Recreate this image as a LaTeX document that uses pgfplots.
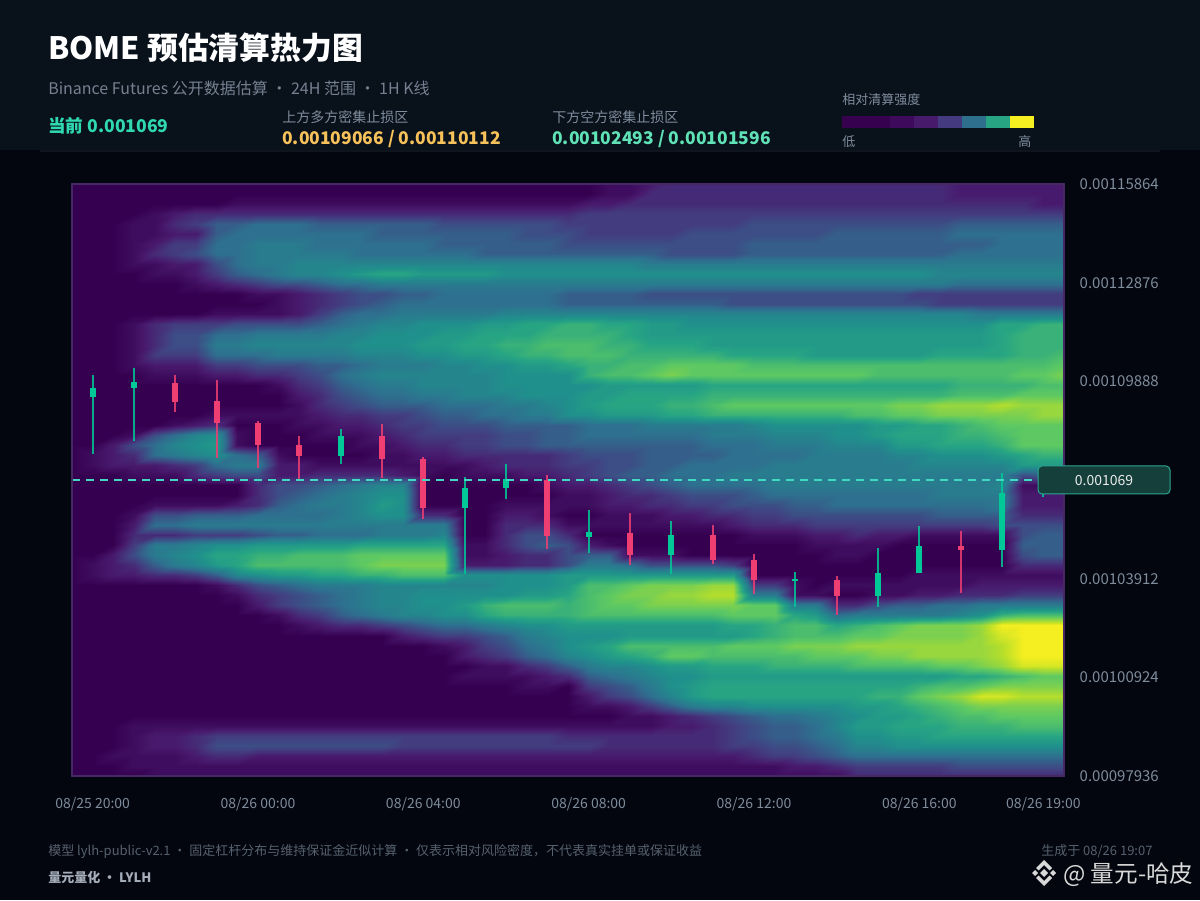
\documentclass[border=0pt]{standalone}
\usepackage{pgfplots}
\pgfplotsset{compat=1.18}
\usepackage{fontspec}
\setmainfont{Noto Sans CJK SC}
\definecolor{hdr}{HTML}{09111B}
\definecolor{bgd}{HTML}{03060E}
\definecolor{upc}{HTML}{00C896}
\definecolor{dnc}{HTML}{EE3E72}
\definecolor{tick}{HTML}{7F8C9C}
\definecolor{mut}{HTML}{56616F}
\newcommand{\fs}[1]{\fontsize{#1}{#1}\selectfont}
\begin{document}
\begin{tikzpicture}
\begin{scope}[x=0.75pt,y=-0.75pt,shift={(0,675pt)}]
\fill[bgd] (0,0) rectangle (1200,900);
\fill[hdr] (0,0) rectangle (1200,150);
\draw[color=hdr!80!white,line width=1.2pt,opacity=.25] (40,151) -- (1160,151);
\node[anchor=base west,inner sep=0,text=white] at (48,59.5) {\fs{23.1}\bfseries BOME 预估清算热力图};
\node[anchor=base west,inner sep=0,text=tick!92!black] at (48,95) {\fs{12}Binance Futures 公开数据估算 · 24H 范围 · 1H K线};
\node[anchor=base west,inner sep=0,text={rgb,255:red,47;green,216;blue,176}] at (48,133) {\fs{13.2}\bfseries 当前 0.001069};
\node[anchor=base west,inner sep=0,text=tick] at (282,123) {\fs{10.5}上方多方密集止损区};
\node[anchor=base west,inner sep=0,text={rgb,255:red,247;green,194;blue,90}] at (282,145) {\fs{13.1}\bfseries 0.00109066 / 0.00110112};
\node[anchor=base west,inner sep=0,text=tick] at (552,123) {\fs{10.5}下方空方密集止损区};
\node[anchor=base west,inner sep=0,text={rgb,255:red,95;green,227;blue,182}] at (552,145) {\fs{13.1}\bfseries 0.00102493 / 0.00101596};
\node[anchor=base west,inner sep=0,text=tick] at (842,105) {\fs{9.75}相对清算强度};
\fill[fill={rgb,255:red,54;green,2;blue,79}] (842,116) rectangle (890,128);
\fill[fill={rgb,255:red,61;green,10;blue,92}] (890,116) rectangle (914,128);
\fill[fill={rgb,255:red,72;green,26;blue,108}] (914,116) rectangle (938,128);
\fill[fill={rgb,255:red,67;green,58;blue,128}] (938,116) rectangle (962,128);
\fill[fill={rgb,255:red,46;green,111;blue,142}] (962,116) rectangle (986,128);
\fill[fill={rgb,255:red,39;green,165;blue,131}] (986,116) rectangle (1010,128);
\fill[fill={rgb,255:red,245;green,238;blue,32}] (1010,116) rectangle (1034,128);
\node[anchor=base west,inner sep=0,text=tick] at (842,146.5) {\fs{9.75}低};
\node[anchor=base west,inner sep=0,text=tick] at (1018,146.5) {\fs{9.75}高};
\node[anchor=base west,inner sep=0,text=mut] at (48,855) {\fs{9.75}模型 lylh-public-v2.1 · 固定杠杆分布与维持保证金近似计算 · 仅表示相对风险密度，不代表真实挂单或保证收益};
\node[anchor=base west,inner sep=0,text=mut] at (1041,855) {\fs{9.75}生成于 08/26 19:07};
\node[anchor=base west,inner sep=0,text=tick!70!white] at (48,882.5) {\fs{9.75}\bfseries 量元量化 · LYLH};
\end{scope}
\begin{axis}[at={(54pt,93pt)},anchor=south west,width=744pt,height=444pt,scale only axis,
 xmin=-0.5,xmax=23.5,ymin=0.00097936,ymax=0.00115864,
 colormap={h}{rgb255(0)=(54,0,80);rgb255(2)=(72,26,110);rgb255(4)=(67,61,128);rgb255(7)=(46,112,143);rgb255(10)=(32,144,140);rgb255(12)=(39,165,131);rgb255(15)=(94,201,98);rgb255(18)=(181,222,43);rgb255(20)=(245,238,32)},
 point meta min=0,point meta max=20,axis on top,
 axis line style={draw={rgb,255:red,70;green,40;blue,100},line width=0.9pt},
 tick style={draw=none},
 xtick={0,4,8,12,16,20,23},
 xticklabels={08/25 20:00,08/26 00:00,08/26 04:00,08/26 08:00,08/26 12:00,08/26 16:00,08/26 19:00},
 xticklabel style={text=tick,font=\fs{10.5},yshift=-12.5pt},
 ytick={0.00097936,0.00100924,0.00103912,0.00109888,0.00112876,0.00115864},
 yticklabels={0.00097936,0.00100924,0.00103912,0.00109888,0.00112876,0.00115864},
 yticklabel pos=right,
 yticklabel style={text=tick,font=\fs{11.25},anchor=west,xshift=8.25pt},
 scaled y ticks=false]
\addplot[surf,shader=interp,mesh/cols=49,point meta=\thisrow{z}] table[row sep=\\,x expr={-0.5+mod(\coordindex,49)*0.5},y expr={0.00115864-floor(\coordindex/49)*0.00017928/59}] {z\\
0\\0\\0\\0\\0\\0\\0\\0\\0\\0\\0\\0\\0\\0\\0\\0\\0\\0\\0\\0\\0\\0\\0\\0\\0\\0\\1\\1\\2\\3\\3\\3\\3\\3\\3\\3\\3\\3\\3\\3\\3\\3\\3\\2\\2\\2\\2\\2\\2\\
0\\0\\0\\0\\0\\0\\0\\0\\0\\0\\0\\0\\0\\0\\0\\0\\0\\0\\0\\0\\0\\0\\0\\0\\0\\0\\1\\1\\3\\3\\3\\3\\3\\3\\3\\3\\3\\3\\3\\3\\3\\3\\3\\2\\2\\2\\2\\2\\2\\
0\\0\\0\\0\\0\\0\\0\\0\\1\\1\\1\\1\\1\\1\\1\\1\\1\\1\\1\\1\\1\\1\\1\\1\\1\\2\\2\\3\\3\\3\\3\\3\\3\\3\\3\\3\\3\\3\\3\\3\\3\\3\\3\\3\\3\\3\\3\\2\\2\\
0\\0\\0\\0\\1\\2\\3\\3\\3\\3\\3\\3\\3\\3\\3\\3\\3\\3\\3\\3\\3\\3\\3\\3\\3\\4\\4\\4\\4\\4\\4\\4\\4\\4\\4\\4\\4\\4\\4\\4\\4\\4\\4\\4\\4\\4\\4\\4\\4\\
0\\0\\0\\1\\1\\3\\4\\6\\6\\7\\7\\7\\6\\6\\6\\6\\6\\6\\5\\5\\5\\5\\5\\5\\4\\4\\4\\4\\4\\4\\4\\4\\4\\5\\5\\5\\5\\5\\5\\5\\5\\5\\5\\6\\6\\6\\6\\6\\6\\
0\\0\\0\\1\\1\\2\\2\\6\\7\\7\\7\\7\\7\\7\\7\\6\\6\\6\\6\\6\\6\\6\\5\\5\\5\\4\\4\\4\\4\\4\\5\\5\\5\\5\\5\\5\\5\\6\\6\\6\\6\\6\\6\\7\\7\\7\\7\\7\\7\\
0\\0\\0\\1\\2\\4\\4\\7\\7\\8\\8\\8\\7\\7\\7\\7\\7\\7\\6\\6\\6\\6\\6\\6\\5\\5\\5\\5\\5\\5\\5\\5\\5\\6\\6\\6\\6\\6\\6\\6\\6\\6\\6\\6\\6\\7\\7\\7\\7\\
0\\0\\0\\1\\3\\4\\5\\7\\7\\8\\8\\8\\8\\8\\7\\7\\7\\7\\7\\7\\6\\6\\6\\6\\6\\6\\6\\6\\6\\5\\5\\5\\5\\6\\6\\6\\6\\6\\6\\6\\6\\6\\6\\7\\7\\7\\7\\7\\7\\
0\\0\\0\\1\\1\\2\\2\\5\\7\\8\\8\\9\\9\\9\\9\\9\\9\\9\\9\\9\\9\\9\\9\\9\\9\\9\\9\\9\\8\\8\\8\\8\\8\\8\\8\\8\\8\\8\\8\\8\\8\\8\\8\\8\\8\\8\\8\\8\\8\\
0\\0\\0\\0\\1\\1\\2\\4\\6\\7\\8\\9\\9\\10\\11\\12\\12\\11\\11\\11\\11\\10\\10\\10\\10\\10\\10\\10\\10\\10\\10\\10\\10\\10\\10\\10\\10\\10\\10\\10\\10\\10\\9\\9\\9\\9\\9\\9\\9\\
0\\0\\0\\0\\0\\0\\1\\2\\3\\4\\5\\5\\6\\7\\7\\8\\8\\8\\8\\8\\8\\8\\8\\8\\8\\8\\8\\8\\8\\8\\8\\8\\8\\8\\8\\8\\8\\8\\8\\8\\8\\8\\8\\7\\7\\7\\7\\7\\7\\
0\\0\\0\\0\\0\\0\\0\\0\\0\\1\\1\\2\\3\\4\\5\\5\\6\\6\\7\\7\\7\\7\\7\\7\\6\\6\\6\\6\\5\\5\\5\\5\\5\\5\\5\\5\\5\\5\\5\\5\\5\\4\\4\\4\\4\\4\\4\\4\\4\\
0\\0\\0\\0\\0\\0\\0\\0\\0\\0\\1\\2\\3\\4\\5\\6\\7\\7\\7\\7\\7\\7\\7\\7\\6\\6\\6\\6\\6\\6\\6\\6\\5\\5\\5\\5\\5\\5\\5\\5\\5\\5\\4\\4\\4\\4\\4\\4\\4\\
0\\0\\0\\0\\0\\0\\0\\1\\1\\1\\1\\2\\4\\6\\7\\7\\8\\8\\8\\8\\8\\9\\9\\9\\9\\9\\9\\9\\9\\9\\9\\9\\9\\9\\9\\9\\9\\9\\9\\9\\9\\9\\9\\9\\8\\8\\8\\8\\8\\
0\\0\\0\\1\\3\\4\\4\\4\\5\\5\\5\\5\\6\\7\\8\\9\\9\\10\\10\\10\\11\\11\\12\\12\\13\\13\\12\\12\\11\\11\\10\\10\\10\\10\\10\\10\\10\\10\\10\\10\\10\\10\\10\\10\\10\\12\\12\\13\\13\\
0\\0\\0\\1\\3\\5\\5\\7\\7\\8\\8\\8\\8\\9\\9\\10\\10\\10\\11\\11\\12\\12\\12\\13\\13\\13\\13\\12\\11\\11\\11\\11\\11\\11\\11\\11\\11\\11\\11\\11\\11\\11\\11\\11\\11\\12\\13\\13\\13\\
0\\0\\0\\1\\3\\5\\5\\8\\8\\9\\9\\9\\9\\9\\10\\10\\10\\11\\11\\12\\12\\13\\13\\14\\14\\14\\13\\13\\12\\12\\12\\11\\11\\11\\11\\11\\11\\11\\11\\11\\11\\11\\11\\11\\11\\12\\13\\13\\13\\
0\\0\\0\\1\\4\\4\\4\\7\\7\\7\\8\\8\\8\\8\\9\\9\\9\\10\\10\\11\\11\\12\\13\\13\\14\\14\\14\\13\\13\\13\\13\\13\\12\\12\\12\\12\\11\\11\\11\\11\\11\\11\\12\\12\\12\\12\\13\\13\\14\\
0\\0\\0\\1\\2\\2\\2\\4\\4\\5\\5\\5\\6\\6\\7\\8\\8\\8\\9\\9\\10\\10\\11\\11\\12\\13\\13\\14\\14\\15\\15\\15\\15\\14\\14\\14\\14\\14\\14\\14\\14\\14\\14\\14\\14\\14\\14\\14\\15\\
0\\0\\0\\0\\1\\1\\1\\2\\2\\3\\3\\4\\5\\7\\8\\9\\9\\9\\9\\9\\9\\10\\10\\10\\10\\13\\14\\14\\15\\16\\15\\15\\15\\15\\15\\15\\15\\15\\15\\14\\14\\14\\14\\14\\14\\14\\15\\15\\16\\
0\\0\\0\\0\\0\\0\\0\\0\\0\\0\\1\\3\\4\\6\\7\\8\\8\\9\\9\\9\\9\\10\\10\\10\\10\\10\\11\\11\\11\\11\\11\\12\\12\\12\\12\\12\\12\\12\\12\\12\\12\\12\\12\\13\\13\\13\\13\\14\\14\\
0\\0\\0\\0\\0\\0\\0\\0\\0\\0\\0\\2\\3\\5\\6\\7\\7\\8\\8\\9\\9\\9\\10\\10\\10\\11\\11\\12\\12\\12\\12\\13\\13\\13\\13\\13\\13\\13\\13\\13\\13\\13\\13\\14\\14\\14\\15\\15\\15\\
0\\0\\0\\0\\0\\0\\0\\0\\0\\0\\0\\1\\3\\4\\5\\6\\6\\6\\7\\7\\7\\8\\8\\9\\10\\11\\12\\12\\12\\13\\13\\14\\15\\15\\15\\15\\15\\15\\15\\15\\16\\16\\17\\17\\17\\18\\17\\17\\17\\
0\\0\\0\\0\\0\\0\\0\\1\\1\\1\\1\\1\\2\\3\\3\\4\\4\\5\\6\\6\\7\\7\\8\\8\\10\\10\\11\\11\\11\\12\\12\\13\\13\\13\\13\\13\\13\\13\\14\\14\\15\\15\\16\\16\\16\\16\\16\\17\\17\\
0\\0\\0\\0\\0\\1\\2\\3\\0\\0\\0\\1\\1\\2\\2\\3\\4\\4\\5\\5\\5\\6\\6\\6\\6\\7\\7\\7\\8\\8\\8\\8\\8\\9\\10\\10\\10\\10\\10\\11\\11\\12\\12\\13\\14\\15\\15\\15\\15\\
0\\0\\0\\1\\5\\7\\9\\10\\1\\0\\0\\0\\1\\1\\1\\2\\3\\4\\4\\4\\4\\5\\5\\6\\6\\7\\7\\7\\7\\7\\7\\8\\8\\8\\9\\9\\9\\10\\10\\11\\12\\12\\12\\13\\13\\14\\15\\15\\15\\
0\\0\\2\\5\\7\\9\\10\\11\\1\\0\\0\\0\\0\\0\\1\\1\\2\\3\\3\\4\\4\\5\\5\\6\\6\\6\\6\\6\\6\\6\\6\\7\\7\\7\\8\\8\\8\\9\\9\\9\\11\\11\\12\\12\\12\\13\\15\\15\\15\\
0\\1\\2\\3\\7\\8\\9\\10\\7\\6\\1\\0\\0\\0\\0\\1\\1\\2\\2\\3\\3\\3\\3\\3\\4\\5\\5\\5\\6\\6\\6\\6\\7\\7\\7\\7\\8\\8\\8\\8\\9\\9\\10\\10\\10\\11\\12\\13\\13\\
0\\1\\2\\2\\2\\3\\4\\7\\8\\8\\2\\2\\1\\1\\1\\1\\1\\1\\1\\1\\2\\3\\3\\3\\4\\4\\5\\5\\6\\6\\7\\7\\7\\7\\8\\8\\8\\8\\8\\8\\8\\9\\9\\9\\9\\9\\11\\11\\11\\
0\\0\\0\\1\\1\\1\\3\\4\\5\\5\\2\\2\\3\\3\\3\\3\\2\\1\\0\\1\\1\\1\\2\\2\\3\\4\\5\\6\\6\\7\\7\\7\\8\\8\\8\\8\\8\\8\\8\\8\\8\\8\\8\\8\\8\\8\\5\\6\\6\\
0\\0\\0\\0\\0\\0\\0\\0\\0\\3\\5\\5\\6\\7\\8\\9\\9\\0\\0\\0\\0\\0\\0\\1\\2\\2\\3\\4\\5\\6\\7\\7\\7\\7\\8\\8\\8\\8\\8\\8\\8\\8\\8\\8\\8\\9\\1\\1\\1\\
0\\0\\0\\0\\0\\0\\0\\0\\0\\3\\5\\6\\7\\8\\9\\10\\10\\0\\0\\0\\0\\0\\0\\0\\1\\1\\2\\3\\3\\4\\5\\5\\5\\6\\7\\7\\7\\7\\7\\7\\7\\7\\8\\8\\8\\8\\2\\2\\2\\
0\\0\\0\\0\\1\\1\\1\\1\\2\\3\\6\\7\\8\\8\\9\\11\\10\\0\\0\\0\\0\\1\\1\\1\\1\\1\\2\\2\\3\\3\\4\\4\\5\\5\\5\\6\\6\\7\\7\\7\\7\\7\\7\\7\\7\\8\\2\\2\\2\\
0\\0\\0\\1\\5\\5\\6\\6\\6\\7\\7\\7\\7\\8\\9\\10\\10\\3\\3\\0\\0\\2\\2\\1\\0\\0\\1\\1\\1\\2\\2\\3\\3\\4\\4\\5\\5\\5\\5\\5\\5\\5\\6\\6\\6\\6\\3\\3\\3\\
0\\0\\0\\2\\7\\7\\8\\8\\8\\8\\8\\8\\8\\8\\8\\8\\8\\8\\8\\0\\0\\3\\3\\3\\1\\1\\1\\1\\1\\1\\1\\1\\2\\3\\3\\3\\4\\4\\4\\4\\4\\4\\4\\4\\4\\5\\5\\5\\5\\
0\\0\\0\\3\\3\\3\\4\\4\\4\\5\\6\\6\\7\\7\\7\\8\\8\\8\\9\\0\\0\\3\\5\\5\\3\\0\\0\\0\\0\\0\\0\\0\\0\\1\\1\\1\\2\\2\\3\\2\\2\\1\\1\\1\\1\\1\\5\\6\\6\\
0\\0\\0\\4\\8\\8\\9\\10\\10\\11\\11\\11\\11\\11\\12\\12\\12\\12\\12\\1\\1\\3\\5\\6\\5\\2\\1\\0\\0\\0\\0\\0\\0\\0\\0\\0\\1\\1\\1\\1\\0\\0\\0\\0\\0\\0\\6\\6\\6\\
0\\0\\2\\5\\8\\9\\10\\12\\12\\13\\13\\14\\14\\14\\15\\15\\15\\15\\15\\1\\1\\2\\3\\3\\5\\6\\6\\1\\1\\1\\0\\0\\0\\0\\0\\0\\0\\1\\1\\0\\0\\0\\0\\0\\0\\0\\5\\6\\6\\
0\\1\\2\\3\\6\\8\\9\\11\\12\\14\\14\\14\\14\\14\\15\\16\\16\\16\\16\\2\\2\\2\\3\\3\\5\\8\\8\\7\\5\\5\\5\\5\\4\\0\\0\\0\\0\\0\\0\\0\\0\\0\\0\\0\\0\\0\\3\\3\\3\\
0\\1\\2\\2\\3\\3\\4\\6\\9\\10\\11\\11\\12\\12\\13\\13\\14\\14\\14\\10\\10\\10\\10\\10\\11\\11\\11\\11\\11\\11\\11\\11\\11\\0\\0\\0\\0\\0\\0\\0\\0\\1\\1\\1\\1\\1\\1\\1\\1\\
0\\0\\0\\0\\0\\0\\0\\1\\3\\5\\6\\7\\8\\8\\8\\9\\9\\9\\9\\9\\9\\10\\10\\10\\11\\14\\14\\15\\16\\16\\16\\17\\17\\4\\4\\1\\0\\1\\1\\1\\1\\1\\1\\1\\2\\2\\2\\2\\2\\
0\\0\\0\\0\\0\\0\\0\\0\\1\\3\\4\\5\\6\\7\\8\\9\\9\\10\\10\\10\\10\\10\\11\\11\\12\\14\\15\\16\\16\\17\\17\\18\\18\\8\\8\\1\\1\\0\\0\\1\\1\\2\\2\\3\\3\\3\\4\\4\\4\\
0\\0\\0\\0\\0\\0\\0\\0\\0\\2\\4\\5\\6\\7\\8\\9\\9\\10\\10\\11\\13\\14\\14\\14\\13\\14\\15\\15\\16\\16\\16\\16\\16\\15\\15\\8\\8\\3\\3\\5\\6\\6\\7\\7\\8\\8\\8\\8\\8\\
0\\0\\0\\0\\0\\0\\0\\0\\0\\0\\1\\3\\4\\6\\7\\8\\9\\9\\10\\10\\12\\13\\13\\13\\13\\14\\14\\14\\14\\14\\14\\14\\15\\15\\15\\12\\11\\7\\8\\8\\8\\8\\8\\9\\10\\13\\14\\14\\14\\
0\\0\\0\\0\\0\\0\\0\\0\\0\\0\\0\\1\\2\\3\\3\\4\\5\\6\\7\\7\\8\\9\\10\\10\\11\\11\\11\\11\\11\\11\\11\\11\\12\\12\\13\\14\\14\\12\\13\\14\\15\\16\\16\\16\\17\\20\\20\\20\\20\\
0\\0\\0\\0\\0\\0\\0\\0\\0\\0\\0\\0\\0\\0\\0\\0\\2\\3\\4\\4\\5\\6\\8\\9\\10\\10\\10\\11\\11\\11\\11\\11\\11\\12\\13\\14\\14\\14\\15\\15\\16\\16\\16\\16\\17\\19\\20\\20\\20\\
0\\0\\0\\0\\0\\0\\0\\0\\0\\0\\0\\0\\0\\0\\0\\0\\0\\0\\1\\2\\4\\5\\7\\8\\10\\11\\12\\14\\14\\14\\14\\14\\15\\15\\15\\16\\16\\16\\17\\17\\17\\17\\17\\17\\17\\18\\20\\20\\20\\
0\\0\\0\\0\\0\\0\\0\\0\\0\\0\\0\\0\\0\\0\\0\\0\\0\\0\\0\\2\\3\\4\\6\\7\\9\\10\\11\\12\\13\\15\\15\\14\\14\\14\\14\\14\\15\\15\\15\\16\\16\\17\\17\\17\\17\\18\\20\\20\\20\\
0\\0\\0\\0\\0\\0\\0\\0\\0\\0\\0\\0\\0\\0\\0\\0\\0\\0\\0\\0\\1\\1\\3\\4\\6\\8\\9\\9\\10\\11\\11\\12\\12\\12\\13\\13\\13\\13\\14\\14\\14\\14\\15\\15\\16\\17\\19\\19\\19\\
0\\0\\0\\0\\0\\0\\0\\0\\0\\0\\0\\0\\0\\0\\0\\0\\0\\0\\0\\1\\1\\1\\1\\2\\3\\6\\7\\8\\9\\10\\10\\11\\11\\11\\11\\11\\11\\11\\11\\11\\11\\11\\11\\12\\12\\13\\14\\15\\15\\
0\\0\\0\\0\\0\\0\\0\\0\\0\\0\\0\\0\\0\\0\\0\\0\\0\\0\\0\\0\\0\\0\\1\\1\\0\\4\\5\\6\\8\\10\\11\\12\\12\\12\\12\\12\\12\\12\\12\\12\\12\\13\\14\\14\\15\\16\\16\\16\\16\\
0\\0\\0\\0\\0\\0\\0\\0\\0\\0\\0\\0\\0\\0\\0\\0\\0\\0\\0\\0\\0\\0\\0\\0\\0\\2\\4\\5\\7\\9\\11\\12\\12\\12\\12\\12\\12\\12\\12\\13\\13\\15\\16\\17\\19\\19\\18\\18\\18\\
0\\0\\0\\0\\0\\0\\0\\0\\0\\0\\0\\0\\0\\0\\0\\0\\0\\0\\0\\0\\0\\0\\0\\0\\0\\1\\1\\2\\4\\6\\8\\9\\9\\10\\10\\10\\10\\10\\11\\11\\12\\13\\14\\15\\16\\16\\16\\16\\16\\
0\\0\\0\\0\\0\\0\\0\\0\\0\\0\\0\\0\\0\\0\\0\\0\\0\\0\\0\\0\\0\\0\\0\\0\\0\\0\\0\\1\\1\\2\\3\\4\\5\\6\\7\\7\\8\\9\\10\\11\\11\\12\\13\\14\\14\\15\\15\\15\\15\\
0\\0\\0\\1\\1\\1\\1\\1\\1\\1\\1\\1\\1\\1\\1\\1\\1\\1\\1\\1\\1\\1\\1\\1\\1\\1\\1\\1\\1\\2\\2\\3\\4\\5\\6\\6\\7\\9\\11\\11\\12\\12\\12\\13\\13\\13\\14\\14\\14\\
0\\0\\0\\1\\2\\2\\3\\4\\4\\4\\4\\4\\4\\4\\4\\4\\4\\4\\4\\4\\4\\4\\4\\4\\3\\3\\3\\3\\3\\3\\3\\3\\4\\5\\6\\6\\7\\8\\10\\10\\11\\11\\12\\12\\12\\12\\12\\12\\12\\
0\\0\\0\\1\\2\\2\\3\\5\\5\\5\\5\\5\\5\\5\\5\\5\\4\\4\\4\\4\\4\\4\\4\\4\\4\\4\\3\\3\\3\\3\\3\\3\\4\\4\\5\\5\\6\\7\\9\\9\\10\\10\\10\\10\\10\\10\\10\\10\\10\\
0\\0\\1\\1\\1\\1\\2\\3\\3\\2\\2\\2\\2\\2\\2\\2\\2\\2\\2\\2\\2\\2\\2\\2\\2\\2\\2\\2\\2\\2\\2\\2\\2\\3\\4\\4\\5\\6\\7\\7\\7\\7\\7\\7\\7\\7\\7\\7\\7\\
0\\0\\0\\1\\1\\1\\1\\1\\1\\1\\1\\1\\1\\1\\1\\1\\1\\1\\1\\1\\1\\1\\1\\1\\1\\1\\1\\1\\1\\1\\1\\1\\1\\1\\1\\2\\2\\3\\4\\4\\4\\4\\4\\5\\5\\5\\5\\5\\5\\
0\\0\\0\\0\\1\\1\\1\\1\\1\\1\\1\\1\\1\\1\\1\\1\\1\\1\\1\\1\\1\\1\\1\\1\\1\\1\\1\\1\\1\\1\\1\\1\\1\\1\\1\\1\\1\\1\\3\\3\\3\\3\\3\\3\\3\\3\\3\\3\\3\\
};
\addplot[upc,line width=1.3pt,opacity=.85,unbounded coords=jump] table {x y
0 0.00107680
0 0.00110075
0 nan
1 0.00108074
1 0.00110287
1 nan
6 0.00107377
6 0.00108438
6 nan
9 0.00104043
9 0.00106983
9 nan
10 0.00106316
10 0.00107377
10 nan
12 0.00104680
12 0.00105983
12 nan
14 0.00104043
14 0.00105650
14 nan
17 0.00103043
17 0.00104104
17 nan
19 0.00103043
19 0.00104831
19 nan
20 0.00104073
20 0.00105498
20 nan
22 0.00104255
22 0.00107104
22 nan
23 0.00106377
23 0.00107195
};
\addplot[dnc,line width=1.3pt,opacity=.85,unbounded coords=jump] table {x y
2 0.00108953
2 0.00110075
2 nan
3 0.00107559
3 0.00109923
3 nan
4 0.00107256
4 0.00108681
4 nan
5 0.00106923
5 0.00108226
5 nan
7 0.00106953
7 0.00108590
7 nan
8 0.00105710
8 0.00107589
8 nan
11 0.00104801
11 0.00107044
11 nan
13 0.00104316
13 0.00105892
13 nan
15 0.00104346
15 0.00105528
15 nan
16 0.00103437
16 0.00104649
16 nan
18 0.00102800
18 0.00103982
18 nan
21 0.00103467
21 0.00105346
};
\addplot[upc,line width=4.5pt,unbounded coords=jump] table {x y
0 0.00109408
0 0.00109681
0 nan
1 0.00109681
1 0.00109863
1 nan
6 0.00107620
6 0.00108226
6 nan
9 0.00106044
9 0.00106650
9 nan
10 0.00106650
10 0.00106923
10 nan
12 0.00105165
12 0.00105316
12 nan
14 0.00104619
14 0.00105225
14 nan
17 0.00103831
17 0.00103892
17 nan
19 0.00103376
19 0.00104073
19 nan
20 0.00104073
20 0.00104892
20 nan
22 0.00104771
22 0.00106498
22 nan
23 0.00106741
23 0.00106923
};
\addplot[dnc,line width=4.5pt,unbounded coords=jump] table {x y
2 0.00109256
2 0.00109832
2 nan
3 0.00108620
3 0.00109287
3 nan
4 0.00107953
4 0.00108620
4 nan
5 0.00107620
5 0.00107953
5 nan
7 0.00107529
7 0.00108226
7 nan
8 0.00106044
8 0.00107529
8 nan
11 0.00105195
11 0.00106892
11 nan
13 0.00104619
13 0.00105286
13 nan
15 0.00104467
15 0.00105225
15 nan
16 0.00103861
16 0.00104467
16 nan
18 0.00103376
18 0.00103861
18 nan
21 0.00104771
21 0.00104892
};
\addplot[color={rgb,255:red,64;green,217;blue,194},line width=1.1pt,dash pattern=on 6pt off 4.5pt] coordinates {(-0.5,0.001069) (23.5,0.001069)};
\end{axis}
\begin{scope}[x=0.75pt,y=-0.75pt,shift={(0,675pt)}]
\draw[rounded corners=3pt,fill={rgb,255:red,20;green,63;blue,58},draw={rgb,255:red,42;green,168;blue,146},line width=0.75pt] (1038,466) rectangle (1170,494);
\node[anchor=base,inner sep=0,text=white!92!black] at (1104,486) {\fs{10.5}0.001069};
\fill[white!85!black] (1044,869) -- (1048,873) -- (1044,877) -- (1040,873) -- cycle;
\fill[white!85!black] (1044,860) -- (1052,868) -- (1049.5,870.5) -- (1044,865) -- (1038.5,870.5) -- (1036,868) -- cycle;
\fill[white!85!black] (1044,886) -- (1052,878) -- (1049.5,875.5) -- (1044,881) -- (1038.5,875.5) -- (1036,878) -- cycle;
\fill[white!85!black] (1035,870) -- (1038,873) -- (1035,876) -- (1032,873) -- cycle;
\fill[white!85!black] (1053,870) -- (1056,873) -- (1053,876) -- (1050,873) -- cycle;
\node[anchor=base west,inner sep=0,text=white!85!black] at (1063,883) {\fs{17.7}@ 量元-哈皮};
\end{scope}
\end{tikzpicture}
\end{document}
